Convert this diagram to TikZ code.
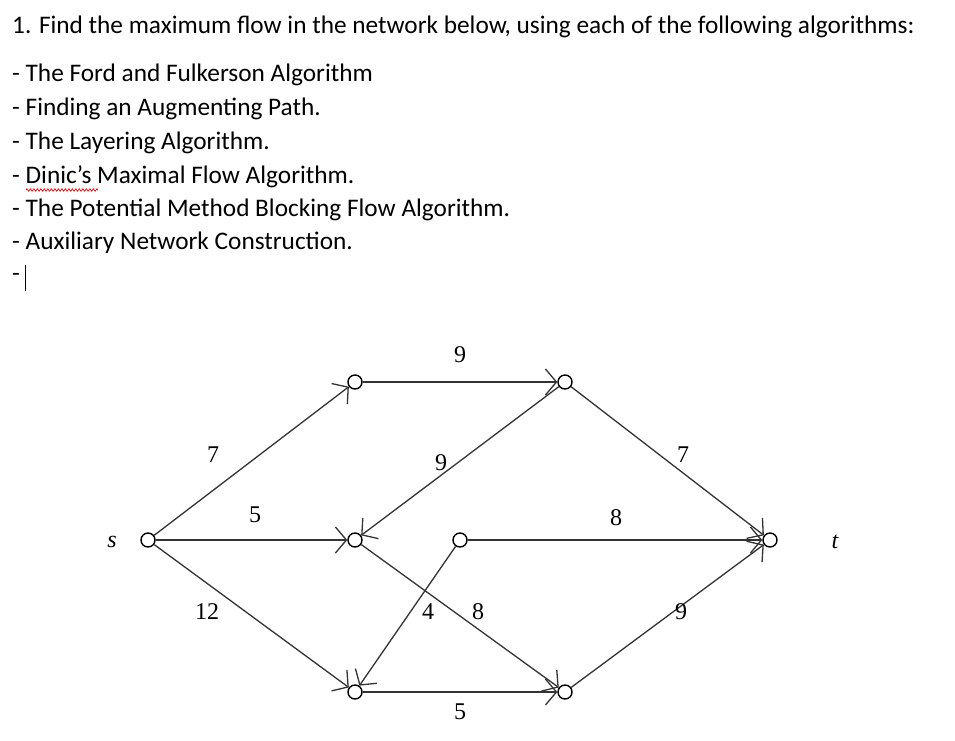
\documentclass[tikz,border=0pt]{standalone}
\usepackage{fontspec}
\setmainfont{Carlito}
\newfontfamily\serifnum{Liberation Serif}
\usetikzlibrary{arrows.meta,decorations.pathmorphing}
\begin{document}
\begin{tikzpicture}[x=1pt,y=-1pt,
  vtx/.style={circle,draw,line width=1.4pt,fill=white,inner sep=0pt,minimum size=14pt},
  edge/.style={draw=black!80,line width=1.3pt,-{Straight Barb[length=11pt,width=26pt,line width=1.3pt]}},
  lbl/.style={font=\serifnum\fontsize{24}{24}\selectfont},
  txt/.style={anchor=west,inner sep=0pt,font=\fontsize{25.3}{26}\selectfont}]
\useasboundingbox (0,0) rectangle (955,740);
\node[txt] (l1) at (12,27) {1. Find the maximum flow in the network below, using each of the following algorithms:};
\node[txt] (l2) at (12,75) {- The Ford and Fulkerson Algorithm};
\node[txt] (l3) at (12,109) {- Finding an Augmenting Path.};
\node[txt] (l4) at (12,143) {- The Layering Algorithm.};
\node[txt] (l5) at (12,177) {- Dinic’s Maximal Flow Algorithm.};
\node[txt] (l6) at (12,210) {- The Potential Method Blocking Flow Algorithm.};
\node[txt] (l7) at (12,243) {- Auxiliary Network Construction.};
\node[txt] (l8) at (12,277) {-};
\draw[red,line width=0.7pt,decorate,decoration={zigzag,amplitude=1.2pt,segment length=3.5pt}] (26,190) -- (98,190);
\draw[line width=1pt] (25,265) -- (25,291);
% nodes
\node[vtx] (s) at (148,540) {};
\node[vtx] (a) at (355,382) {};
\node[vtx] (b) at (565,382) {};
\node[vtx] (c) at (355,540) {};
\node[vtx] (d) at (460,540) {};
\node[vtx] (t) at (770,540) {};
\node[vtx] (e) at (355,692) {};
\node[vtx] (f) at (565,692) {};
% edges
\draw[edge] (s) -- (a);
\draw[edge] (s) -- (c);
\draw[edge] (s) -- (e);
\draw[edge] (a) -- (b);
\draw[edge] (b) -- (c);
\draw[edge] (b) -- (t);
\draw[edge] (d) -- (t);
\draw[edge] (d) -- (e);
\draw[edge] (c) -- (f);
\draw[edge] (e) -- (f);
\draw[edge] (f) -- (t);
% labels
\node[lbl] (ls) at (112,542) {\itshape s};
\node[lbl] (lt) at (835,542) {\itshape t};
\node[lbl] (l7a) at (213,455) {7};
\node[lbl] (l5a) at (255,515) {5};
\node[lbl] (l12) at (207,612) {12};
\node[lbl] (l9a) at (460,355) {9};
\node[lbl] (l9b) at (441,463) {9};
\node[lbl] (l8a) at (616,518) {8};
\node[lbl] (l7b) at (683,455) {7};
\node[lbl] (l4) at (428,612) {4};
\node[lbl] (l8b) at (478,612) {8};
\node[lbl] (l5b) at (460,712) {5};
\node[lbl] (l9c) at (681,612) {9};
\end{tikzpicture}
\end{document}
